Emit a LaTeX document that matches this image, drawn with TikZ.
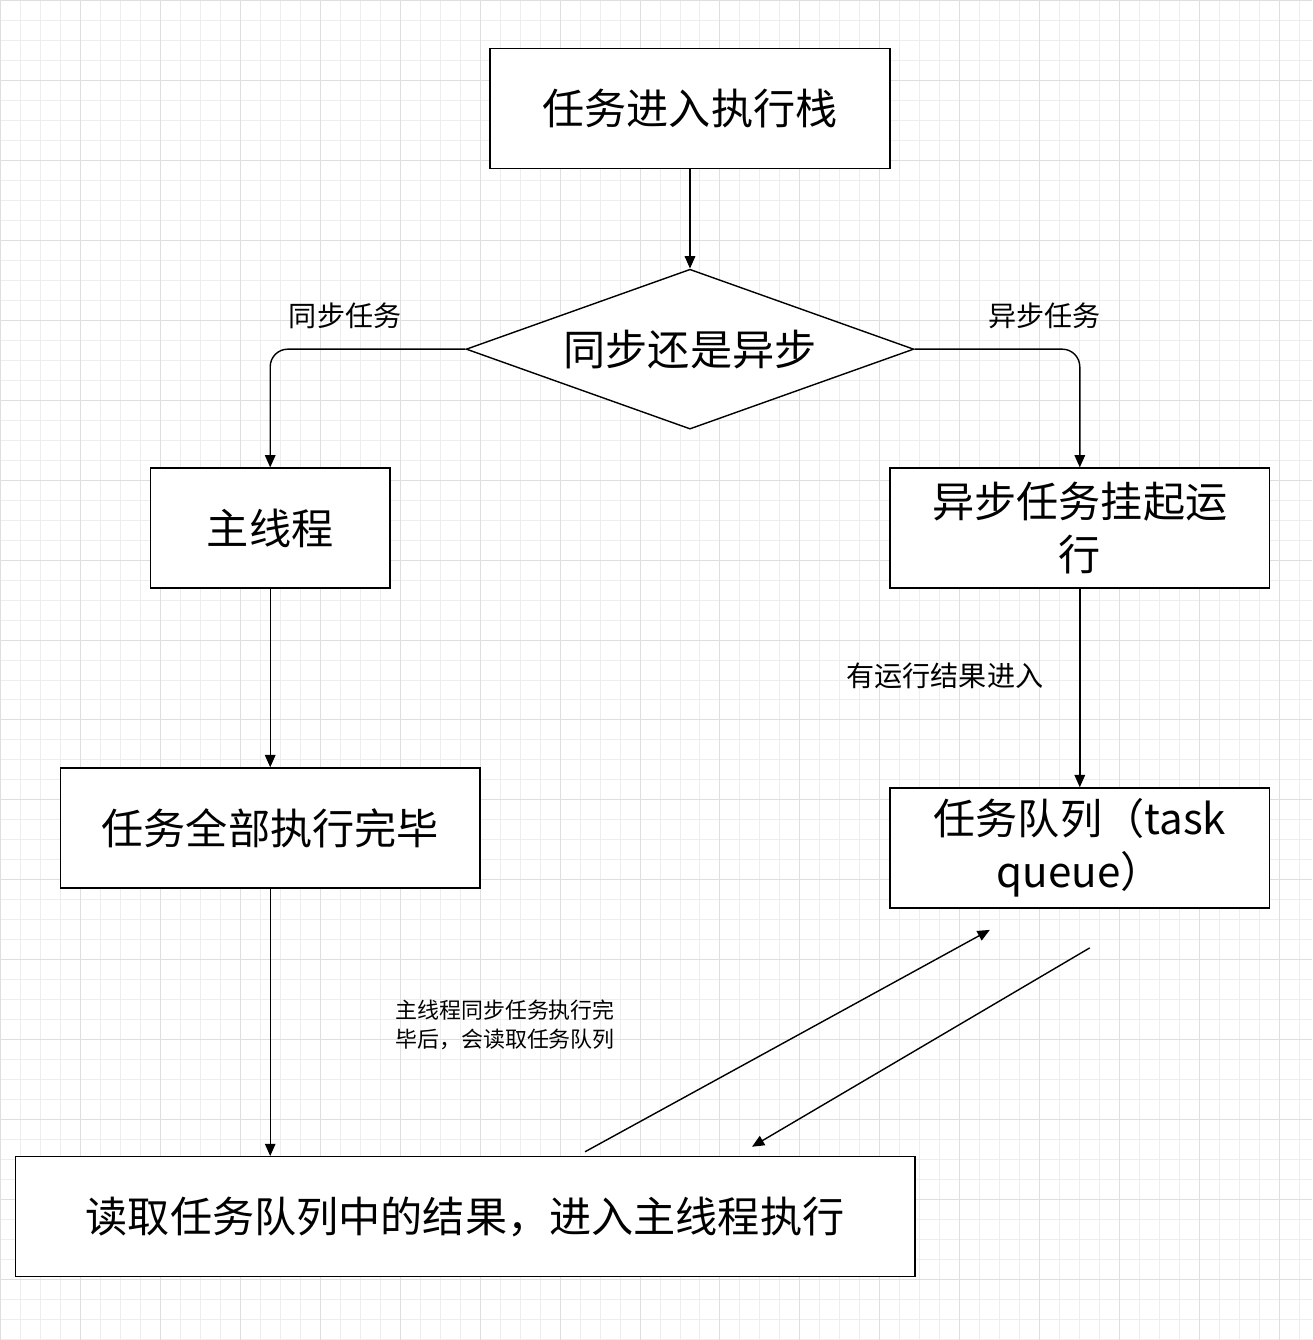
\documentclass[tikz,border=0pt]{standalone}
\usepackage{fontspec}
\newfontfamily\cjk{Noto Sans CJK SC}
\usetikzlibrary{shapes.geometric,arrows.meta}
\begin{document}
\begin{tikzpicture}[x=0.02cm,y=-0.02cm,
  step box/.style={draw,thick,fill=white,minimum height=2.4cm,inner sep=2pt,align=center,font=\cjk\fontsize{24}{30}\selectfont},
  choice/.style={draw,thick,diamond,aspect=2.8,fill=white,minimum width=8.96cm,minimum height=3.2cm,inner sep=0pt,font=\cjk\fontsize{24}{30}\selectfont},
  flow/.style={thick,-{Triangle[length=7pt,width=6pt]}},
  tag/.style={font=\cjk\fontsize{16}{20}\selectfont},
  note/.style={font=\cjk\fontsize{12.5}{17}\selectfont,align=left},
  ]
  % background grid
  \fill[white] (0,0) rectangle (1312,1340);
  \draw[black!7,step=0.4cm] (0,0) grid (1312,1340);
  \draw[black!13,step=1.6cm] (0,0) grid (1312,1340);
  \useasboundingbox (0,0) rectangle (1312,1340);

  \node[step box,minimum width=8cm] (enter) at (690,108) {任务进入执行栈};
  \node[choice] (kind) at (690,349) {同步还是异步};
  \node[step box,minimum width=4.8cm] (main) at (270,528) {主线程};
  \node[step box,minimum width=7.6cm,text width=7.2cm] (hang) at (1080,528) {异步任务挂起运\\行};
  \node[step box,minimum width=8.4cm] (done) at (270,828) {任务全部执行完毕};
  \node[step box,minimum width=7.6cm,text width=7.2cm] (queue) at (1080,848) {任务队列（task\\queue）};
  \node[step box,minimum width=18cm] (read) at (465,1217) {读取任务队列中的结果，进入主线程执行};

  \coordinate (up0) at (585,1152);
  \coordinate (up1) at (990,930);
  \coordinate (dn0) at (1090,948);
  \coordinate (dn1) at (752,1147);

  \draw[flow] (enter) -- (kind);
  \draw[flow,rounded corners=10pt] (kind.west) -| (main.north);
  \draw[flow,rounded corners=10pt] (kind.east) -| (hang.north);
  \draw[flow] (main) -- (done);
  \draw[flow] (done) -- (read.north -| done);
  \draw[flow] (hang) -- (queue);
  \draw[flow] (up0) -- (up1);
  \draw[flow] (dn0) -- (dn1);

  \node[tag] (syncl) at (345,316) {同步任务};
  \node[tag] (asyncl) at (1045,316) {异步任务};
  \node[tag] (resl) at (945,676) {有运行结果进入};
  \node[note] (readl) at (505,1025) {主线程同步任务执行完\\毕后，会读取任务队列};
\end{tikzpicture}
\end{document}
